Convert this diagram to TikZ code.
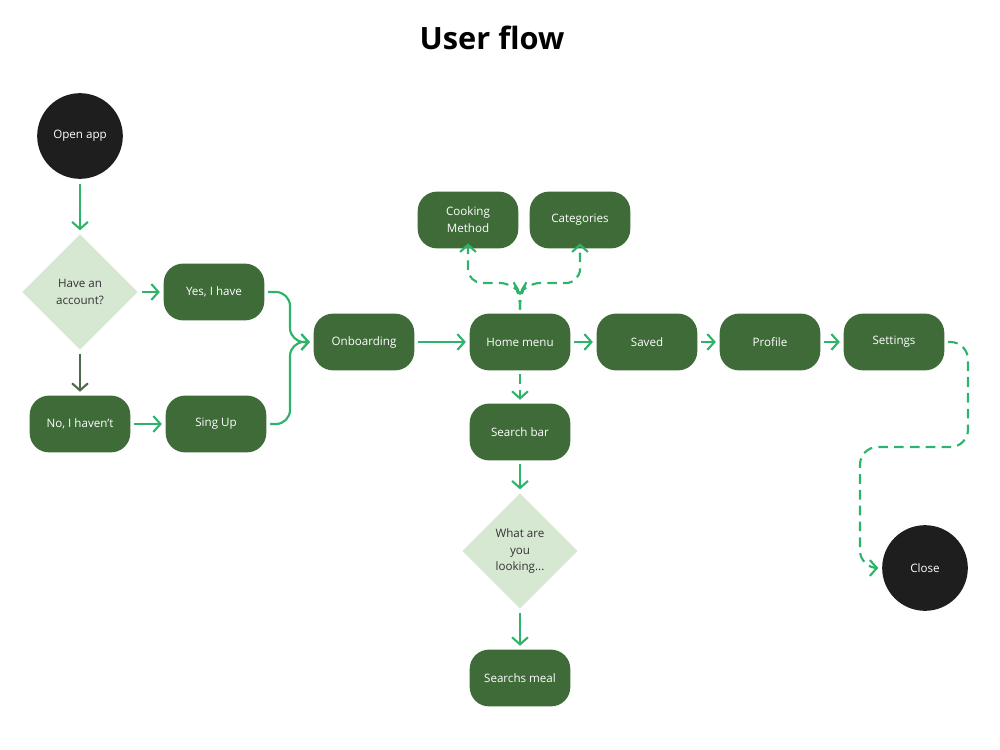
\documentclass[tikz,border=0pt]{standalone}
\usepackage{fontspec}
\setmainfont{Open Sans}
\usetikzlibrary{arrows.meta,shapes.geometric,calc}
\definecolor{dkgreen}{HTML}{3E6B38}
\definecolor{ltgreen}{HTML}{D7E8D2}
\definecolor{lnk}{HTML}{2DB46A}
\definecolor{grayarrow}{HTML}{4E6A4C}
\definecolor{blk}{HTML}{1E1E1E}
\begin{document}
\begin{tikzpicture}[x=0.02cm,y=-0.02cm,
  box/.style={rectangle,rounded corners=11pt,fill=dkgreen,text=white,minimum width=101*0.567pt,minimum height=57*0.567pt,inner sep=0pt,align=center,font=\fontsize{6.6}{9.6}\selectfont},
  circ/.style={circle,fill=blk,text=white,minimum size=86*0.567pt,inner sep=0pt,font=\fontsize{6.6}{9.6}\selectfont},
  dia/.style={diamond,fill=ltgreen,text=black!80,minimum width=116*0.567pt,minimum height=116*0.567pt,inner sep=0pt,align=center,font=\fontsize{6.6}{9.6}\selectfont},
  conn/.style={draw=lnk,line width=1.2pt,-{Straight Barb[length=4pt,width=9pt,line width=1.2pt]}},
  dconn/.style={conn,dash pattern=on 5.5pt off 3.5pt},
]
\useasboundingbox (0,0) rectangle (1000,750);
\node[font=\fontsize{17.5}{20}\selectfont\bfseries] (title) at (492,38) {User flow};

\node[circ] (open) at (80,136) {Open app};
\node[dia] (acc) at (80,292) {Have an\\account?};
\node[box] (yes) at (214,292) {Yes, I have};
\node[box] (no) at (80,424) {No, I haven't};
\node[box] (sign) at (216,424) {Sing Up};
\node[box] (onb) at (364,342) {Onboarding};
\node[box] (home) at (520,342) {Home menu};
\node[box] (saved) at (647,342) {Saved};
\node[box] (prof) at (770,342) {Profile};
\node[box] (sett) at (894,342) {Settings};
\node[box] (cook) at (468,220) {Cooking\\Method};
\node[box] (cat) at (580,220) {Categories};
\node[box] (search) at (520,432) {Search bar};
\node[dia] (look) at (520,551) {What are\\you\\looking...};
\node[box] (meal) at (520,678) {Searchs meal};
\node[circ] (close) at (925,568) {Close};

\coordinate (split) at (520,293);
\coordinate (mergeA) at (290,292);
\coordinate (mergeB) at (290,424);
\coordinate (sA) at (968,342);
\coordinate (sB) at (968,447);
\coordinate (sC) at (860,447);
\coordinate (sD) at (860,568);

\draw[conn] ([yshift=-3pt]open.south) -- ([yshift=2pt]acc.north);
\draw[conn] ([xshift=2pt]acc.east) -- ([xshift=-2pt]yes.west);
\draw[conn,draw=grayarrow,-{Straight Barb[length=4pt,width=9pt,line width=1.2pt]}] ([yshift=-2pt]acc.south) -- ([yshift=2pt]no.north);
\draw[conn] ([xshift=2pt]no.east) -- ([xshift=-2pt]sign.west);
\draw[conn,rounded corners=8pt] ([xshift=2pt]yes.east) -- (mergeA) -- (mergeA |- onb.west) -- ([xshift=-2pt]onb.west);
\draw[conn,rounded corners=8pt] ([xshift=2pt]sign.east) -- (mergeB) -- (mergeB |- onb.west) -- ([xshift=-2pt]onb.west);
\draw[conn] ([xshift=2pt]onb.east) -- ([xshift=-2pt]home.west);
\draw[conn] ([xshift=2pt]home.east) -- ([xshift=-2pt]saved.west);
\draw[conn] ([xshift=2pt]saved.east) -- ([xshift=-2pt]prof.west);
\draw[conn] ([xshift=2pt]prof.east) -- ([xshift=-2pt]sett.west);
\draw[dconn] ([yshift=-2pt]home.south) -- ([yshift=2pt]search.north);
\draw[dconn,rounded corners=8pt] ([yshift=2pt]home.north) -- (split) -- ($(split)+(-6,-10)$) -- (cook.south |- {$(split)+(0,-10)$}) -- ([yshift=3pt]cook.south);
\draw[dconn,rounded corners=8pt] ([yshift=2pt]home.north) -- (split) -- ($(split)+(6,-10)$) -- (cat.south |- {$(split)+(0,-10)$}) -- ([yshift=3pt]cat.south);
\draw[conn] ([yshift=-2pt]search.south) -- ([yshift=2pt]look.north);
\draw[conn] ([yshift=-2pt]look.south) -- ([yshift=2pt]meal.north);
\draw[dconn,rounded corners=10pt] ([xshift=2pt]sett.east) -- (sA) -- (sB) -- (sC) -- (sD) -- ([xshift=-2pt]close.west);
\end{tikzpicture}
\end{document}
